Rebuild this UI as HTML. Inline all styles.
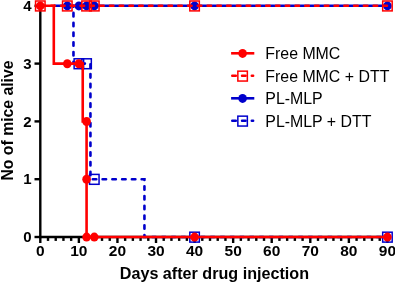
<!DOCTYPE html>
<html><head><meta charset="utf-8"><title>Survival</title>
<style>
html,body{margin:0;padding:0;background:#fff;overflow:hidden}
svg{display:block}
text{font-family:"Liberation Sans",Arial,Helvetica,sans-serif;fill:#000}
.lg{font-size:15.9px}
.tk{font-size:15.5px;font-weight:bold}
.ty{font-size:15px}
.tt{font-size:16px;font-weight:bold}
</style></head><body>
<svg width="395" height="283" viewBox="0 0 395 283">
<rect width="395" height="283" fill="#fff"/>
<g stroke="#000" stroke-width="2.4" fill="none">
<line x1="40.3" y1="5.8" x2="40.3" y2="238.2"/>
<line x1="39.099999999999994" y1="237.0" x2="387.43" y2="237.0"/>
<line x1="34.5" y1="237.0" x2="40.3" y2="237.0"/>
<line x1="34.5" y1="179.2" x2="40.3" y2="179.2"/>
<line x1="34.5" y1="121.4" x2="40.3" y2="121.4"/>
<line x1="34.5" y1="63.6" x2="40.3" y2="63.6"/>
<line x1="34.5" y1="5.8" x2="40.3" y2="5.8"/>
<line x1="40.3" y1="237.0" x2="40.3" y2="243.0"/>
<line x1="78.87" y1="237.0" x2="78.87" y2="243.0"/>
<line x1="117.44" y1="237.0" x2="117.44" y2="243.0"/>
<line x1="156.01" y1="237.0" x2="156.01" y2="243.0"/>
<line x1="194.58" y1="237.0" x2="194.58" y2="243.0"/>
<line x1="233.15" y1="237.0" x2="233.15" y2="243.0"/>
<line x1="271.72" y1="237.0" x2="271.72" y2="243.0"/>
<line x1="310.29" y1="237.0" x2="310.29" y2="243.0"/>
<line x1="348.86" y1="237.0" x2="348.86" y2="243.0"/>
<line x1="387.43" y1="237.0" x2="387.43" y2="243.0"/>
<line x1="48.01" y1="237.0" x2="48.01" y2="240.9"/>
<line x1="55.73" y1="237.0" x2="55.73" y2="240.9"/>
<line x1="63.44" y1="237.0" x2="63.44" y2="240.9"/>
<line x1="71.16" y1="237.0" x2="71.16" y2="240.9"/>
<line x1="86.58" y1="237.0" x2="86.58" y2="240.9"/>
<line x1="94.3" y1="237.0" x2="94.3" y2="240.9"/>
<line x1="102.01" y1="237.0" x2="102.01" y2="240.9"/>
<line x1="109.73" y1="237.0" x2="109.73" y2="240.9"/>
<line x1="125.15" y1="237.0" x2="125.15" y2="240.9"/>
<line x1="132.87" y1="237.0" x2="132.87" y2="240.9"/>
<line x1="140.58" y1="237.0" x2="140.58" y2="240.9"/>
<line x1="148.3" y1="237.0" x2="148.3" y2="240.9"/>
<line x1="163.72" y1="237.0" x2="163.72" y2="240.9"/>
<line x1="171.44" y1="237.0" x2="171.44" y2="240.9"/>
<line x1="179.15" y1="237.0" x2="179.15" y2="240.9"/>
<line x1="186.87" y1="237.0" x2="186.87" y2="240.9"/>
<line x1="202.29" y1="237.0" x2="202.29" y2="240.9"/>
<line x1="210.01" y1="237.0" x2="210.01" y2="240.9"/>
<line x1="217.72" y1="237.0" x2="217.72" y2="240.9"/>
<line x1="225.44" y1="237.0" x2="225.44" y2="240.9"/>
<line x1="240.86" y1="237.0" x2="240.86" y2="240.9"/>
<line x1="248.58" y1="237.0" x2="248.58" y2="240.9"/>
<line x1="256.29" y1="237.0" x2="256.29" y2="240.9"/>
<line x1="264.01" y1="237.0" x2="264.01" y2="240.9"/>
<line x1="279.43" y1="237.0" x2="279.43" y2="240.9"/>
<line x1="287.15" y1="237.0" x2="287.15" y2="240.9"/>
<line x1="294.86" y1="237.0" x2="294.86" y2="240.9"/>
<line x1="302.58" y1="237.0" x2="302.58" y2="240.9"/>
<line x1="318.0" y1="237.0" x2="318.0" y2="240.9"/>
<line x1="325.72" y1="237.0" x2="325.72" y2="240.9"/>
<line x1="333.43" y1="237.0" x2="333.43" y2="240.9"/>
<line x1="341.15" y1="237.0" x2="341.15" y2="240.9"/>
<line x1="356.57" y1="237.0" x2="356.57" y2="240.9"/>
<line x1="364.29" y1="237.0" x2="364.29" y2="240.9"/>
<line x1="372.0" y1="237.0" x2="372.0" y2="240.9"/>
<line x1="379.72" y1="237.0" x2="379.72" y2="240.9"/>
</g>
<polyline points="73.47,5.8 73.47,63.6 90.44,63.6 90.44,179.2 144.44,179.2 144.44,237.0 387.43,237.0" fill="none" stroke="#0000cc" stroke-width="2.6" stroke-dasharray="3.5 6.27" stroke-dashoffset="2.66" stroke-linecap="round"/>
<rect x="74.12" y="58.8" width="9.5" height="9.9" fill="none" stroke="#0000cc" stroke-width="1.5"/>
<rect x="81.83" y="58.8" width="9.5" height="9.9" fill="none" stroke="#0000cc" stroke-width="1.5"/>
<rect x="89.55" y="174.4" width="9.5" height="9.9" fill="none" stroke="#0000cc" stroke-width="1.5"/>
<rect x="189.83" y="232.2" width="9.5" height="9.9" fill="none" stroke="#0000cc" stroke-width="1.5"/>
<rect x="382.68" y="232.2" width="9.5" height="9.9" fill="none" stroke="#0000cc" stroke-width="1.5"/>
<polyline points="53.8,5.8 387.43,5.8" fill="none" stroke="#0000cc" stroke-width="2.6"/>
<ellipse cx="67.3" cy="5.9" rx="4.3" ry="4.5" fill="#0000cc"/>
<ellipse cx="78.87" cy="5.9" rx="4.3" ry="4.5" fill="#0000cc"/>
<ellipse cx="86.58" cy="5.9" rx="4.3" ry="4.5" fill="#0000cc"/>
<ellipse cx="94.3" cy="5.9" rx="4.3" ry="4.5" fill="#0000cc"/>
<ellipse cx="194.58" cy="5.9" rx="4.3" ry="4.5" fill="#0000cc"/>
<ellipse cx="387.43" cy="5.9" rx="4.3" ry="4.5" fill="#0000cc"/>
<polyline points="40.3,5.8 387.43,5.8" fill="none" stroke="#ff0000" stroke-width="2.6" stroke-dasharray="3.5 6.27" stroke-dashoffset="-1.2" stroke-linecap="round"/>
<rect x="35.55" y="1.0" width="9.5" height="9.9" fill="none" stroke="#ff0000" stroke-width="1.5"/>
<rect x="62.55" y="1.0" width="9.5" height="9.9" fill="none" stroke="#ff0000" stroke-width="1.5"/>
<rect x="81.83" y="1.0" width="9.5" height="9.9" fill="none" stroke="#ff0000" stroke-width="1.5"/>
<rect x="89.55" y="1.0" width="9.5" height="9.9" fill="none" stroke="#ff0000" stroke-width="1.5"/>
<rect x="189.83" y="1.0" width="9.5" height="9.9" fill="none" stroke="#ff0000" stroke-width="1.5"/>
<rect x="382.68" y="1.0" width="9.5" height="9.9" fill="none" stroke="#ff0000" stroke-width="1.5"/>
<polyline points="40.3,5.8 53.8,5.8 53.8,63.6 82.73,63.6 82.73,121.4 86.58,121.4 86.58,237.0 387.43,237.0" fill="none" stroke="#ff0000" stroke-width="2.6"/>
<ellipse cx="40.3" cy="5.9" rx="4.3" ry="4.5" fill="#ff0000"/>
<ellipse cx="67.3" cy="63.7" rx="4.3" ry="4.5" fill="#ff0000"/>
<ellipse cx="78.87" cy="63.7" rx="4.3" ry="4.5" fill="#ff0000"/>
<ellipse cx="86.58" cy="121.5" rx="4.3" ry="4.5" fill="#ff0000"/>
<ellipse cx="86.58" cy="179.3" rx="4.3" ry="4.5" fill="#ff0000"/>
<ellipse cx="86.58" cy="237.1" rx="4.3" ry="4.5" fill="#ff0000"/>
<ellipse cx="94.3" cy="237.1" rx="4.3" ry="4.5" fill="#ff0000"/>
<ellipse cx="194.58" cy="237.1" rx="4.3" ry="4.5" fill="#ff0000"/>
<ellipse cx="387.43" cy="237.1" rx="4.3" ry="4.5" fill="#ff0000"/>
<line x1="231.1" y1="53.3" x2="254.3" y2="53.3" stroke="#ff0000" stroke-width="2.6"/>
<ellipse cx="242.6" cy="53.4" rx="4.3" ry="4.5" fill="#ff0000"/>
<text x="265.3" y="59.199999999999996" class="lg">Free MMC</text>
<line x1="231.1" y1="75.8" x2="253.1" y2="75.8" stroke="#ff0000" stroke-width="2.6" stroke-dasharray="3.5 6.27" stroke-dashoffset="-1.2" stroke-linecap="round"/>
<rect x="237.85" y="71.15" width="9.5" height="9.9" fill="none" stroke="#ff0000" stroke-width="1.5"/>
<text x="265.3" y="81.7" class="lg">Free MMC + DTT</text>
<line x1="231.1" y1="98.3" x2="254.3" y2="98.3" stroke="#0000cc" stroke-width="2.6"/>
<ellipse cx="242.6" cy="98.4" rx="4.3" ry="4.5" fill="#0000cc"/>
<text x="265.3" y="104.2" class="lg">PL-MLP</text>
<line x1="231.1" y1="120.8" x2="253.1" y2="120.8" stroke="#0000cc" stroke-width="2.6" stroke-dasharray="3.5 6.27" stroke-dashoffset="-1.2" stroke-linecap="round"/>
<rect x="237.85" y="116.15" width="9.5" height="9.9" fill="none" stroke="#0000cc" stroke-width="1.5"/>
<text x="265.3" y="126.7" class="lg">PL-MLP + DTT</text>
<text x="31.7" y="242.1" class="tk ty" text-anchor="end">0</text>
<text x="31.7" y="184.3" class="tk ty" text-anchor="end">1</text>
<text x="31.7" y="126.5" class="tk ty" text-anchor="end">2</text>
<text x="31.7" y="68.7" class="tk ty" text-anchor="end">3</text>
<text x="31.7" y="10.9" class="tk ty" text-anchor="end">4</text>
<text x="40.3" y="256.2" class="tk" text-anchor="middle">0</text>
<text x="78.87" y="256.2" class="tk" text-anchor="middle">10</text>
<text x="117.44" y="256.2" class="tk" text-anchor="middle">20</text>
<text x="156.01" y="256.2" class="tk" text-anchor="middle">30</text>
<text x="194.58" y="256.2" class="tk" text-anchor="middle">40</text>
<text x="233.15" y="256.2" class="tk" text-anchor="middle">50</text>
<text x="271.72" y="256.2" class="tk" text-anchor="middle">60</text>
<text x="310.29" y="256.2" class="tk" text-anchor="middle">70</text>
<text x="348.86" y="256.2" class="tk" text-anchor="middle">80</text>
<text x="387.43" y="256.2" class="tk" text-anchor="middle">90</text>
<text x="214.4" y="279.4" class="tt" text-anchor="middle" textLength="189.2" lengthAdjust="spacingAndGlyphs">Days after drug injection</text>
<text transform="translate(13.2,120.5) rotate(-90)" class="tt" text-anchor="middle" textLength="120.1" lengthAdjust="spacingAndGlyphs">No of mice alive</text>
</svg>
</body></html>
